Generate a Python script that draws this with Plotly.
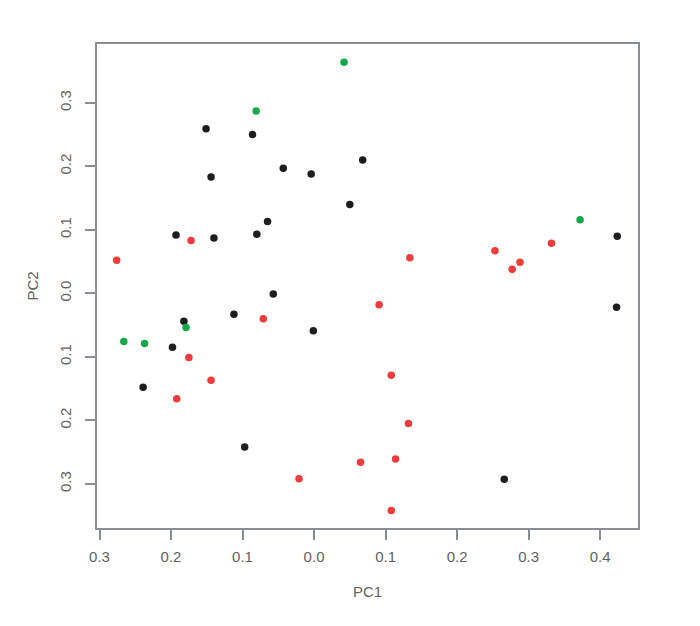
import plotly.graph_objects as go

# PC scores by group
black_pc1 = [-0.151, -0.086, 0.068, -0.043, -0.004, -0.144, 0.050, -0.065, -0.193, -0.140,
             -0.080, 0.424, 0.423, -0.057, -0.112, -0.182, -0.001, -0.198, -0.239, -0.097, 0.266]
black_pc2 = [0.259, 0.250, 0.210, 0.197, 0.188, 0.183, 0.140, 0.113, 0.092, 0.087,
             0.093, 0.090, -0.022, -0.001, -0.033, -0.044, -0.059, -0.085, -0.148, -0.242, -0.293]

red_pc1 = [-0.172, -0.276, 0.332, 0.253, 0.288, 0.277, 0.134, 0.091, -0.071, -0.175,
           -0.144, -0.192, 0.065, -0.021, 0.108, 0.132, 0.114, 0.108]
red_pc2 = [0.083, 0.052, 0.079, 0.067, 0.049, 0.038, 0.056, -0.018, -0.040, -0.101,
           -0.137, -0.166, -0.266, -0.292, -0.129, -0.205, -0.261, -0.342]

green_pc1 = [0.042, -0.081, 0.372, -0.179, -0.266, -0.237]
green_pc2 = [0.364, 0.287, 0.116, -0.054, -0.076, -0.079]

x_tickvals = [-0.3, -0.2, -0.1, 0.0, 0.1, 0.2, 0.3, 0.4]
x_ticktext = ["0.3", "0.2", "0.1", "0.0", "0.1", "0.2", "0.3", "0.4"]
y_tickvals = [-0.3, -0.2, -0.1, 0.0, 0.1, 0.2, 0.3]
y_ticktext = ["0.3", "0.2", "0.1", "0.0", "0.1", "0.2", "0.3"]

fig = go.Figure()
for xs, ys, col in [(black_pc1, black_pc2, "#1e1e1e"),
                    (red_pc1, red_pc2, "#ee3b3b"),
                    (green_pc1, green_pc2, "#17a84b")]:
    fig.add_trace(go.Scatter(x=xs, y=ys, mode="markers",
                             marker=dict(size=7.5, color=col, line=dict(width=0)),
                             showlegend=False))

axis_font = dict(family="Liberation Sans, Arial, sans-serif", size=15, color="#626262")
fig.update_xaxes(range=[-0.3035, 0.453], tickvals=x_tickvals, ticktext=x_ticktext,
                 showgrid=False, zeroline=False, showline=True, mirror=True,
                 linecolor="#8a8d93", linewidth=2, ticks="outside", ticklen=10,
                 tickwidth=2, tickcolor="#8a8d93", tickfont=axis_font, automargin=False,
                 ticklabelstandoff=4,
                 title=dict(text="PC1", font=axis_font, standoff=22))
fig.update_yaxes(range=[-0.3696, 0.3926], tickvals=y_tickvals, ticktext=y_ticktext,
                 showgrid=False, zeroline=False, showline=True, mirror=True,
                 linecolor="#8a8d93", linewidth=2, ticks="outside", ticklen=10,
                 tickwidth=2, tickcolor="#8a8d93", tickfont=axis_font, tickangle=-90,
                 ticklabelstandoff=8, automargin=False,
                 title=dict(text="PC2", font=axis_font, standoff=15))
fig.update_layout(width=700, height=626, paper_bgcolor="white", plot_bgcolor="white",
                  margin=dict(l=89, r=70, t=36, b=106))
fig.write_html("out.html")
